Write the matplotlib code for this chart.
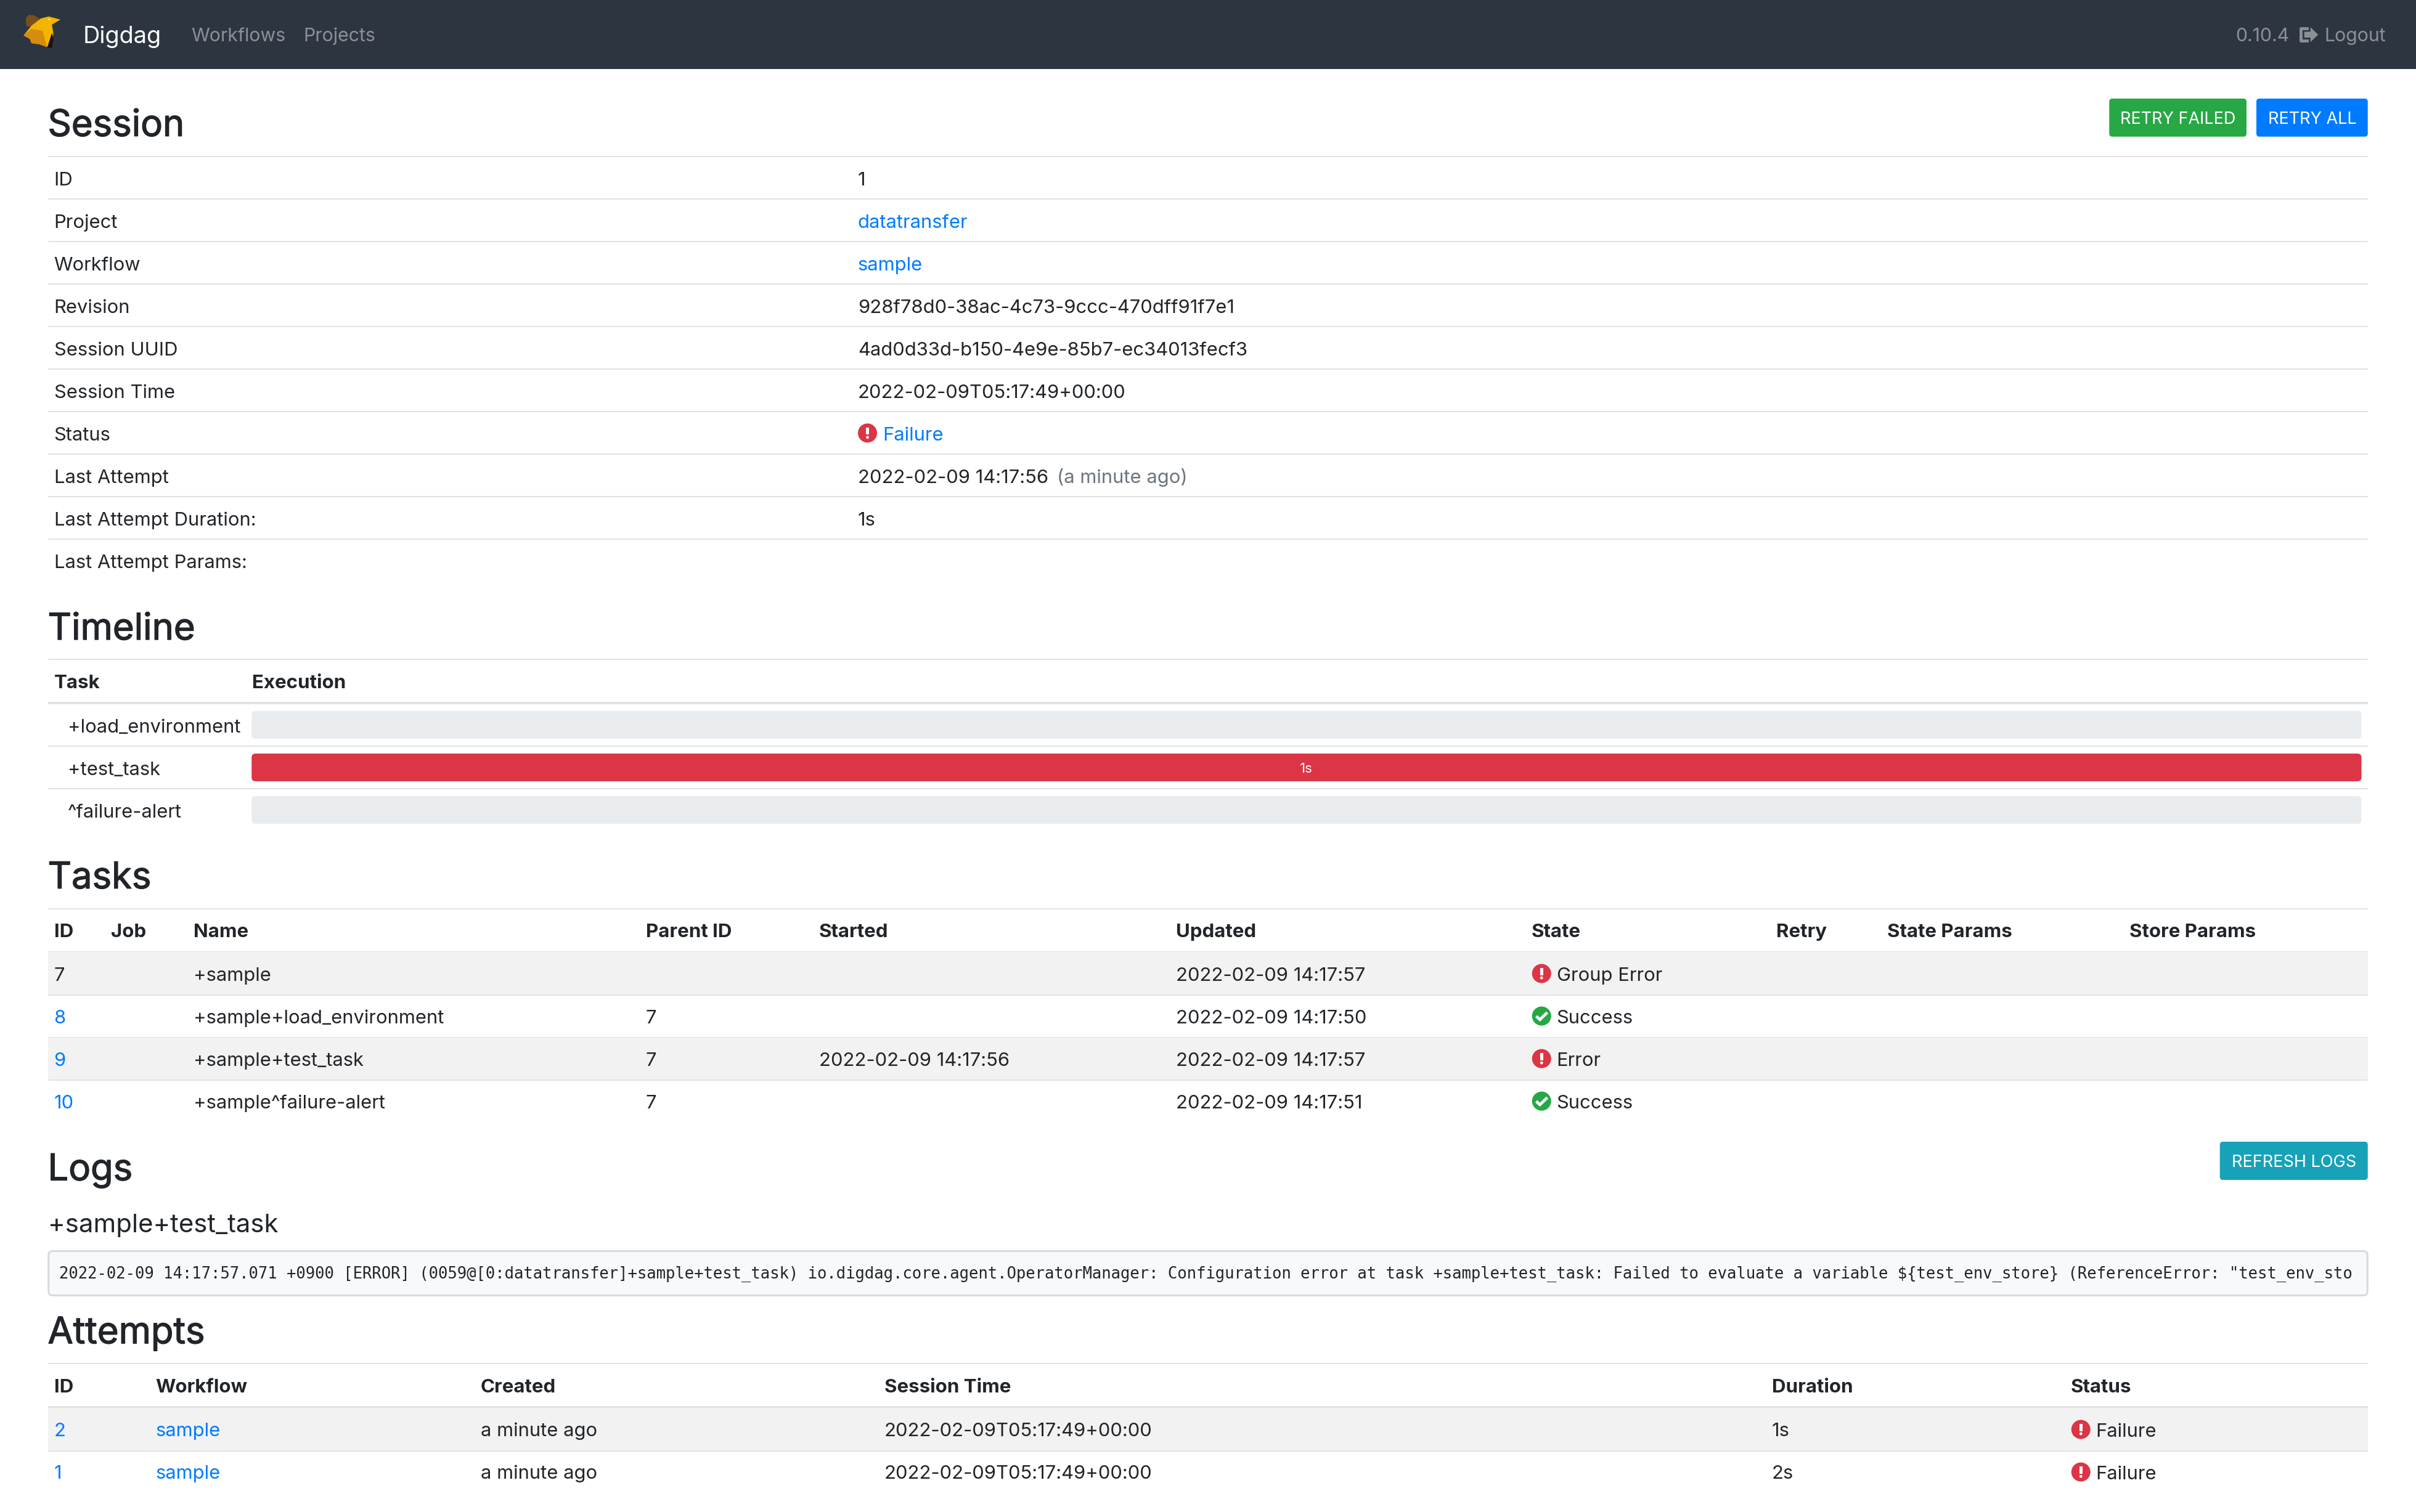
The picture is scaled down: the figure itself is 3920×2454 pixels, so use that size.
import matplotlib
matplotlib.use('Agg')
import matplotlib.pyplot as plt
import matplotlib.patheffects as pe
from matplotlib.patches import Rectangle, FancyBboxPatch, Circle, Polygon

# screenshot of the digdag session page
session_labels = ['ID', 'Project', 'Workflow', 'Revision', 'Session UUID', 'Session Time',
                  'Status', 'Last Attempt', 'Last Attempt Duration:', 'Last Attempt Params:']
session_values = ['1', 'datatransfer', 'sample', '928f78d0-38ac-4c73-9ccc-470dff91f7e1',
                  '4ad0d33d-b150-4e9e-85b7-ec34013fecf3', '2022-02-09T05:17:49+00:00',
                  'Failure', '2022-02-09 14:17:56', '1s', '']
timeline_tasks = ['+load_environment', '+test_task', '^failure-alert']
timeline_share = [0.0, 1.0, 0.0]
timeline_text = ['', '1s', '']

task_cols = ['ID', 'Job', 'Name', 'Parent ID', 'Started', 'Updated', 'State', 'Retry',
             'State Params', 'Store Params']
task_ids = ['7', '8', '9', '10']
task_names = ['+sample', '+sample+load_environment', '+sample+test_task', '+sample^failure-alert']
task_parents = ['', '7', '7', '7']
task_started = ['', '', '2022-02-09 14:17:56', '']
task_updated = ['2022-02-09 14:17:57', '2022-02-09 14:17:50', '2022-02-09 14:17:57', '2022-02-09 14:17:51']
task_states = ['Group Error', 'Success', 'Error', 'Success']

log_line = ('2022-02-09 14:17:57.071 +0900 [ERROR] (0059@[0:datatransfer]+sample+test_task) '
            'io.digdag.core.agent.OperatorManager: Configuration error at task +sample+test_task: '
            'Failed to evaluate a variable ${test_env_store} (ReferenceError: "test_env_sto')

attempt_cols = ['ID', 'Workflow', 'Created', 'Session Time', 'Duration', 'Status']
attempt_ids = ['2', '1']
attempt_flows = ['sample', 'sample']
attempt_created = ['a minute ago', 'a minute ago']
attempt_times = ['2022-02-09T05:17:49+00:00', '2022-02-09T05:17:49+00:00']
attempt_durations = ['1s', '2s']
attempt_status = ['Failure', 'Failure']

FONT = 'Inter'
DARK = '#212529'
BLUE = '#007bff'
RED = '#dc3545'
GREEN = '#28a745'
RULE = '#dee2e6'
GREY = '#6c757d'
NAVGREY = '#8b9096'

LEFT, RIGHT = 31, 1536.7
BODY = 8.9
BOLD = 9.0
NAV = 8.7
HEAD = 17.2
BTN = 7.8
ROW = 27.62

# axes in page units, 2.5 output pixels each
fig = plt.figure(figsize=(39.2, 24.54), dpi=100)
ax = fig.add_axes([0, 0, 1, 1])
ax.set_xlim(0, 1568)
ax.set_ylim(981.6, 0)
ax.axis('off')


def text(x, y, s, color=DARK, size=BODY, weight='normal', ha='left', family=FONT):
    # y is the middle of the capitals, so all sizes line up the same way
    base = y + 0.365 * size * 1.389
    return ax.text(x, base, s, color=color, fontsize=size * 2.5, fontweight=weight, ha=ha, va='baseline',
                   family=family, parse_math=False)


def heading(y, s):
    t = text(LEFT, y, s, size=HEAD)
    t.set_path_effects([pe.withStroke(linewidth=0.9, foreground=DARK)])


def rule(y, lw=0.8):
    ax.add_patch(Rectangle((LEFT, y - lw / 2), RIGHT - LEFT, lw, fc=RULE, ec='none'))


def rounded(x0, y0, x1, y1, color, r=2.0, ec='none', lw=0):
    p = FancyBboxPatch((x0 + r, y0 + r), x1 - x0 - 2 * r, y1 - y0 - 2 * r,
                       boxstyle='round,pad=%f,rounding_size=%f' % (r, r), fc=color, ec=ec, lw=lw)
    ax.add_patch(p)
    return p


def bad_icon(x, y):
    ax.add_patch(Circle((x, y), 6.2, fc=RED, ec='none'))
    ax.add_patch(Rectangle((x - 0.95, y - 3.6), 1.9, 4.6, fc='white', ec='none'))
    ax.add_patch(Circle((x, y + 2.8), 0.95, fc='white', ec='none'))


def ok_icon(x, y):
    ax.add_patch(Circle((x, y), 6.2, fc=GREEN, ec='none'))
    ax.plot([x - 3.5, x - 1.1, x + 3.7], [y + 0.1, y + 2.3, y - 2.3], color='white', lw=3.4,
            solid_capstyle='butt', solid_joinstyle='miter')


def state_cell(x, y, s):
    if s == 'Success':
        ok_icon(x + 6.5, y)
    else:
        bad_icon(x + 6.5, y)
    text(x + 16.2, y + 0.3, s)


def stripe(y):
    ax.add_patch(Rectangle((LEFT, y - ROW / 2), RIGHT - LEFT, ROW, fc='#f2f2f2', ec='none'))


# navbar
ax.add_patch(Rectangle((0, 0), 1568, 44.8, fc='#2d3640', ec='none'))
# logo
ax.add_patch(Polygon([(16.7, 12), (18.4, 9.6), (22.4, 10), (26.5, 12.7), (20.4, 17.3), (17.3, 17.3)],
                     fc='#7a4e1d', ec='none'))
ax.add_patch(Polygon([(15.3, 23), (20.4, 16.7), (26.5, 12), (31.6, 10.7), (39.2, 12.7), (33.7, 16), (34.7, 22),
                      (32.7, 31), (25.5, 28.7), (20.4, 28), (19.4, 25.3)], fc='#f2b600', ec='none'))
ax.add_patch(Polygon([(15.3, 23), (20.4, 18.7), (27.6, 20), (30.6, 30.7), (25.5, 28.7), (20.4, 28), (19.4, 25.3)],
                     fc='#d68c0e', ec='none'))
ax.add_patch(Polygon([(30.6, 31), (33.7, 21.3), (34.7, 25.3), (33.7, 31)], fc='#1a1208', ec='none'))
ax.add_patch(Circle((32, 12.7), 0.5, fc='white', ec='none'))
text(54, 22.5, 'Digdag', color='white', size=10.9)
text(124, 22.5, 'Workflows', color=NAVGREY, size=NAV)
text(197, 22.5, 'Projects', color=NAVGREY, size=NAV)
text(1451, 22.5, '0.10.4', color=NAVGREY, size=NAV)
text(1548.5, 22.5, 'Logout', color=NAVGREY, size=NAV, ha='right')
# logout icon
ax.plot([1497, 1493, 1493, 1497], [18.5, 18.5, 26.5, 26.5], color=NAVGREY, lw=3.5, solid_joinstyle='round')
ax.add_patch(Polygon([(1495.5, 20.6), (1499.5, 20.6), (1499.5, 17.7), (1504.5, 22.5), (1499.5, 27.3), (1499.5, 24.4),
                      (1495.5, 24.4)], fc=NAVGREY, ec='none'))

# Session
heading(79.6, 'Session')
rounded(1368.9, 64, 1458, 88.7, GREEN)
text(1413.5, 76.5, 'RETRY FAILED', color='white', size=BTN, ha='center')
rounded(1464.4, 64, RIGHT, 88.7, BLUE)
text(1500.6, 76.5, 'RETRY ALL', color='white', size=BTN, ha='center')

rule(101.6)
for i, (lab, val) in enumerate(zip(session_labels, session_values)):
    y = 115.4 + i * ROW
    yt = y + 0.4
    text(35, yt, lab)
    if lab in ('Project', 'Workflow'):
        text(556.7, yt, val, color=BLUE)
    elif lab == 'Status':
        bad_icon(563, y)
        text(572.8, yt, val, color=BLUE)
    elif lab == 'Last Attempt':
        text(556.7, yt, val)
        text(686, yt, '(a minute ago)', color=GREY)
    else:
        text(556.7, yt, val)
    if i < len(session_labels) - 1:
        rule(101.6 + (i + 1) * ROW)

# Timeline
heading(406.5, 'Timeline')
rule(427.8)
text(35, 442.3, 'Task', size=BOLD, weight='bold')
text(163.5, 442.3, 'Execution', size=BOLD, weight='bold')
rule(456.4, lw=1.4)
bar_x0, bar_x1 = 163.3, 1532.6
for i, (name, share, lab) in enumerate(zip(timeline_tasks, timeline_share, timeline_text)):
    y = 470.6 + i * ROW
    text(44, y + 0.3, name)
    rounded(bar_x0, y - 9, bar_x1, y + 9, '#e9ecef', r=2.6)
    if share > 0:
        end = bar_x0 + share * (bar_x1 - bar_x0)
        rounded(bar_x0, y - 9, end, y + 9, RED, r=2.6)
        text((bar_x0 + end) / 2, y, lab, color='white', size=6.4, ha='center')
    if i < len(timeline_tasks) - 1:
        rule(y + ROW / 2)

# Tasks
heading(568.0, 'Tasks')
rule(589.8)
task_x = [35, 72, 125.5, 419, 531.5, 763, 994, 1153, 1225, 1382]
for x, c in zip(task_x, task_cols):
    text(x, 603.9, c, size=BOLD, weight='bold')
rule(618.3, lw=1.4)
for i in range(len(task_ids)):
    y = 632 + i * ROW
    yt = y + 0.3
    if i % 2 == 0:
        stripe(y)
    text(task_x[0], yt, task_ids[i], color=DARK if i == 0 else BLUE)
    text(task_x[2], yt, task_names[i])
    text(task_x[3], yt, task_parents[i])
    text(task_x[4], yt, task_started[i])
    text(task_x[5], yt, task_updated[i])
    state_cell(task_x[6], y, task_states[i])
    if i < len(task_ids) - 1:
        rule(y + ROW / 2)

# Logs
heading(757.5, 'Logs')
rounded(1440.7, 741.2, RIGHT, 766, '#17a2b8')
text(1488.7, 753.6, 'REFRESH LOGS', color='white', size=BTN, ha='center')
text(LEFT, 794, '+sample+test_task', size=12.05)
rounded(31.5, 812.2, 1536.5, 841, '#f8f9fa', r=2.6, ec='#d9dadb', lw=2.2)
text(38.5, 826.4, log_line, size=7.39, family='DejaVu Sans Mono')

# Attempts
heading(863.4, 'Attempts')
rule(885)
attempt_x = [35, 101, 312, 574, 1150, 1344]
for x, c in zip(attempt_x, attempt_cols):
    text(x, 899.4, c, size=BOLD, weight='bold')
rule(913.3, lw=1.4)
for i in range(len(attempt_ids)):
    y = 928 + i * ROW
    if i % 2 == 0:
        stripe(y)
    text(attempt_x[0], y, attempt_ids[i], color=BLUE)
    text(attempt_x[1], y, attempt_flows[i], color=BLUE)
    text(attempt_x[2], y, attempt_created[i])
    text(attempt_x[3], y, attempt_times[i])
    text(attempt_x[4], y, attempt_durations[i])
    state_cell(attempt_x[5], y, attempt_status[i])
    if i < len(attempt_ids) - 1:
        rule(y + ROW / 2)

fig.savefig('out.png', dpi=100, facecolor='white')
